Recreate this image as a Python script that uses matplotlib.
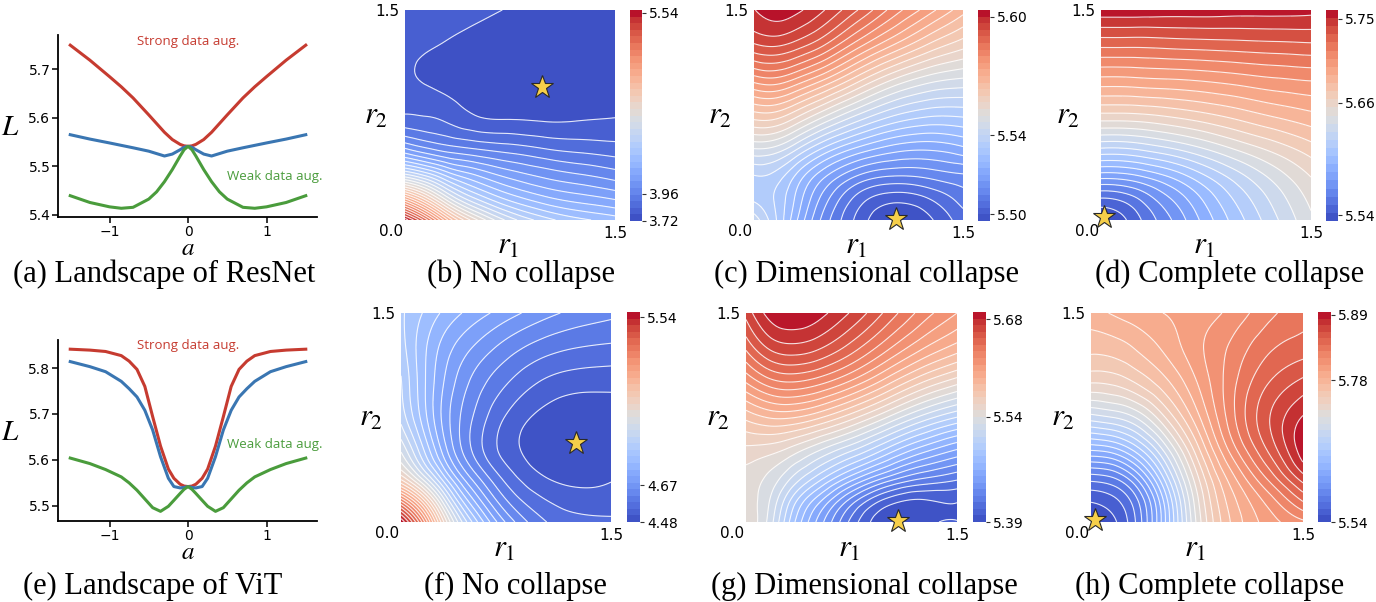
import numpy as np
import matplotlib
matplotlib.use('Agg')
import matplotlib.pyplot as plt
import matplotlib.tri as mtri

plt.rcParams['mathtext.fontset'] = 'stix'
plt.rcParams['font.family'] = ['DejaVu Sans']

# ---------------- data: 1-D landscapes ----------------
x_resnet = [-1.5, -1.25, -1.0, -0.85, -0.7, -0.5, -0.4, -0.3, -0.2, -0.1, -0.05, 0.0,
            0.05, 0.1, 0.2, 0.3, 0.4, 0.5, 0.7, 0.85, 1.0, 1.25, 1.5]
resnet_strong = [5.750, 5.719, 5.685, 5.664, 5.641, 5.606, 5.588, 5.570, 5.555, 5.545, 5.542, 5.541,
                 5.542, 5.545, 5.555, 5.570, 5.588, 5.606, 5.641, 5.664, 5.685, 5.719, 5.750]
resnet_mid = [5.565, 5.556, 5.548, 5.543, 5.538, 5.531, 5.526, 5.521, 5.525, 5.534, 5.539, 5.541,
              5.539, 5.534, 5.525, 5.521, 5.526, 5.531, 5.538, 5.543, 5.548, 5.556, 5.565]
resnet_weak = [5.439, 5.425, 5.416, 5.413, 5.415, 5.432, 5.447, 5.468, 5.493, 5.521, 5.534, 5.541,
               5.534, 5.521, 5.493, 5.468, 5.447, 5.432, 5.415, 5.413, 5.416, 5.425, 5.439]

x_vit = [-1.5, -1.25, -1.05, -0.85, -0.75, -0.65, -0.55, -0.45, -0.35, -0.25, -0.18, -0.1, -0.05, 0.0,
         0.05, 0.1, 0.18, 0.25, 0.35, 0.45, 0.55, 0.65, 0.75, 0.85, 1.05, 1.25, 1.5]
vit_strong = [5.841, 5.839, 5.836, 5.827, 5.815, 5.797, 5.760, 5.694, 5.630, 5.580, 5.560, 5.547, 5.543, 5.542,
              5.543, 5.547, 5.560, 5.580, 5.630, 5.694, 5.760, 5.797, 5.815, 5.827, 5.836, 5.839, 5.841]
vit_mid = [5.814, 5.803, 5.792, 5.771, 5.755, 5.737, 5.708, 5.665, 5.607, 5.560, 5.542, 5.539, 5.540, 5.542,
           5.540, 5.539, 5.542, 5.560, 5.607, 5.665, 5.708, 5.737, 5.755, 5.771, 5.792, 5.803, 5.814]
vit_weak = [5.604, 5.592, 5.579, 5.563, 5.550, 5.534, 5.515, 5.496, 5.488, 5.499, 5.512, 5.527, 5.536, 5.542,
            5.536, 5.527, 5.512, 5.499, 5.488, 5.496, 5.515, 5.534, 5.550, 5.563, 5.579, 5.592, 5.604]

# ---------------- data: 2-D landscapes (rows: r2, cols: r1) ----------------
r_grid = [0.0, 0.15, 0.3, 0.5, 0.75, 1.0, 1.25, 1.5]

L_b = [[5.54, 5.30, 5.00, 4.72, 4.50, 4.38, 4.31, 4.27],
       [5.05, 4.85, 4.62, 4.42, 4.28, 4.20, 4.155, 4.12],
       [4.55, 4.45, 4.32, 4.21, 4.12, 4.065, 4.03, 3.995],
       [4.085, 4.03, 3.99, 3.96, 3.93, 3.90, 3.88, 3.865],
       [3.838, 3.832, 3.815, 3.777, 3.765, 3.76, 3.765, 3.773],
       [3.784, 3.774, 3.762, 3.748, 3.733, 3.722, 3.726, 3.738],
       [3.79, 3.783, 3.774, 3.764, 3.752, 3.742, 3.74, 3.745],
       [3.808, 3.803, 3.797, 3.788, 3.775, 3.766, 3.76, 3.757]]

L_c = [[5.542, 5.534, 5.524, 5.512, 5.502, 5.4965, 5.499, 5.505],
       [5.536, 5.533, 5.526, 5.515, 5.505, 5.501, 5.503, 5.508],
       [5.536, 5.535, 5.529, 5.52, 5.512, 5.509, 5.51, 5.512],
       [5.546, 5.545, 5.54, 5.532, 5.525, 5.521, 5.52, 5.522],
       [5.562, 5.562, 5.558, 5.551, 5.543, 5.537, 5.534, 5.534],
       [5.578, 5.579, 5.576, 5.57, 5.561, 5.553, 5.548, 5.546],
       [5.593, 5.594, 5.592, 5.587, 5.578, 5.57, 5.563, 5.558],
       [5.600, 5.602, 5.601, 5.597, 5.59, 5.582, 5.575, 5.568]]

L_d = [[5.534, 5.540, 5.552, 5.568, 5.590, 5.610, 5.628, 5.645],
       [5.550, 5.553, 5.562, 5.577, 5.597, 5.616, 5.633, 5.649],
       [5.578, 5.579, 5.584, 5.594, 5.610, 5.626, 5.641, 5.655],
       [5.618, 5.618, 5.621, 5.627, 5.637, 5.648, 5.658, 5.668],
       [5.662, 5.662, 5.663, 5.666, 5.671, 5.677, 5.683, 5.688],
       [5.696, 5.696, 5.697, 5.698, 5.700, 5.703, 5.706, 5.708],
       [5.727, 5.727, 5.727, 5.728, 5.729, 5.730, 5.731, 5.732],
       [5.757, 5.757, 5.757, 5.756, 5.756, 5.755, 5.755, 5.754]]

L_f = [[5.56, 5.36, 5.10, 4.86, 4.68, 4.59, 4.56, 4.555],
       [5.36, 5.19, 4.98, 4.77, 4.62, 4.555, 4.532, 4.53],
       [5.13, 5.00, 4.85, 4.69, 4.575, 4.522, 4.505, 4.512],
       [4.99, 4.87, 4.745, 4.62, 4.535, 4.495, 4.48, 4.482],
       [4.91, 4.81, 4.71, 4.62, 4.545, 4.505, 4.488, 4.49],
       [4.89, 4.80, 4.72, 4.645, 4.585, 4.545, 4.528, 4.525],
       [4.87, 4.80, 4.74, 4.685, 4.635, 4.60, 4.582, 4.575],
       [4.86, 4.82, 4.78, 4.74, 4.70, 4.665, 4.64, 4.625]]

L_g = [[5.548, 5.53, 5.495, 5.455, 5.415, 5.392, 5.395, 5.40],
       [5.544, 5.533, 5.505, 5.47, 5.432, 5.405, 5.398, 5.40],
       [5.545, 5.538, 5.522, 5.497, 5.466, 5.44, 5.425, 5.418],
       [5.555, 5.552, 5.545, 5.53, 5.51, 5.487, 5.466, 5.452],
       [5.58, 5.587, 5.588, 5.58, 5.562, 5.54, 5.518, 5.502],
       [5.615, 5.628, 5.633, 5.628, 5.612, 5.59, 5.568, 5.552],
       [5.645, 5.662, 5.668, 5.664, 5.648, 5.627, 5.607, 5.592],
       [5.665, 5.683, 5.69, 5.685, 5.67, 5.65, 5.63, 5.615]]

L_h = [[5.54, 5.548, 5.57, 5.63, 5.72, 5.775, 5.80, 5.815],
       [5.552, 5.558, 5.577, 5.635, 5.725, 5.78, 5.81, 5.84],
       [5.575, 5.58, 5.60, 5.655, 5.735, 5.79, 5.828, 5.865],
       [5.625, 5.63, 5.648, 5.69, 5.755, 5.81, 5.85, 5.89],
       [5.69, 5.695, 5.705, 5.735, 5.78, 5.825, 5.86, 5.885],
       [5.74, 5.742, 5.75, 5.767, 5.795, 5.825, 5.85, 5.865],
       [5.765, 5.767, 5.773, 5.785, 5.803, 5.82, 5.837, 5.845],
       [5.78, 5.785, 5.79, 5.795, 5.80, 5.81, 5.825, 5.835]]

# colour ranges, number of bands, colorbar ticks, minima (stars)
vrange = {'b': (3.72, 5.565), 'c': (5.4965, 5.6035), 'd': (5.5336, 5.7596),
          'f': (4.48, 5.566), 'g': (5.39, 5.69), 'h': (5.54, 5.895)}
n_bands = {'b': 32, 'c': 32, 'd': 26, 'f': 32, 'g': 32, 'h': 32}
cb_ticks = {'b': [3.72, 3.96, 5.54], 'c': [5.50, 5.54, 5.60], 'd': [5.54, 5.66, 5.75],
            'f': [4.48, 4.67, 5.54], 'g': [5.39, 5.54, 5.68], 'h': [5.54, 5.78, 5.89]}
stars = {'b': (0.98, 0.95), 'c': (1.02, 0.01), 'd': (0.02, 0.02),
         'f': (1.25, 0.566), 'g': (1.08, 0.01), 'h': (0.03, 0.015)}
captions = {'a': '(a) Landscape of ResNet', 'b': '(b) No collapse', 'c': '(c) Dimensional collapse',
            'd': '(d) Complete collapse', 'e': '(e) Landscape of ViT', 'f': '(f) No collapse',
            'g': '(g) Dimensional collapse', 'h': '(h) Complete collapse'}

RED, BLUE, GREEN = '#c63b30', '#3a76b2', '#4a9c3c'
STAR = '#f6cf4a'

W, H = 1376, 602
fig = plt.figure(figsize=(W / 100, H / 100), dpi=100)


def px_axes(x0, y0, x1, y1):
    return fig.add_axes([x0 / W, 1 - y1 / H, (x1 - x0) / W, (y1 - y0) / H])


# ---------------- line panels ----------------
def line_panel(box, x, s, m, w, ylim, yticks, strong_y, weak_y, Ly, ay):
    ax = px_axes(*box)
    ax.plot(x, s, color=RED, lw=2.2)
    ax.plot(x, m, color=BLUE, lw=2.2)
    ax.plot(x, w, color=GREEN, lw=2.2)
    ax.set_xlim(-1.656, 1.643)
    ax.set_ylim(*ylim)
    ax.set_xticks([-1, 0, 1])
    ax.set_xticklabels(['\u22121', '0', '1'])
    ax.set_yticks(yticks)
    ax.set_yticklabels(['%.1f' % v for v in yticks])
    for sp in ['top', 'right']:
        ax.spines[sp].set_visible(False)
    for sp in ['left', 'bottom']:
        ax.spines[sp].set_linewidth(1.3)
    ax.tick_params(direction='out', length=4, width=1.1, labelsize=10, pad=1.5)
    ax.text(0, strong_y, 'Strong data aug.', color=RED, fontsize=9.5, ha='center', va='center',
            family='Open Sans')
    ax.text(1.11, weak_y, 'Weak data aug.', color=GREEN, fontsize=9.5, ha='center', va='center',
            family='Open Sans')
    ax.set_xlabel('$a$', fontsize=18, va='center')
    ax.xaxis.set_label_coords(0.502, ay)
    ax.set_ylabel('$L$', fontsize=21, rotation=0, ha='center', va='center')
    ax.yaxis.set_label_coords(-0.185, Ly)
    return ax


line_panel((58, 35, 317, 217), x_resnet, resnet_strong, resnet_mid, resnet_weak,
           (5.395, 5.771), [5.4, 5.5, 5.6, 5.7], 5.757, 5.478, 0.495, -0.17)
line_panel((58, 340, 317, 521), x_vit, vit_strong, vit_mid, vit_weak,
           (5.467, 5.861), [5.5, 5.6, 5.7, 5.8], 5.848, 5.633, 0.49, -0.172)


# ---------------- contour panels ----------------
def contour_panel(key, Z, box, cbox, r2x, r1y):
    ax = px_axes(*box)
    cax = px_axes(*cbox)
    vmin, vmax = vrange[key]
    R1, R2 = np.meshgrid(r_grid, r_grid)
    tri = mtri.Triangulation(R1.ravel(), R2.ravel())
    refiner = mtri.UniformTriRefiner(tri)
    tri_f, z_f = refiner.refine_field(np.asarray(Z, float).ravel(), subdiv=4)
    z_f = np.clip(z_f, vmin, vmax)
    levels = np.linspace(vmin, vmax, n_bands[key] + 1)
    cf = ax.tricontourf(tri_f, z_f, levels=levels, cmap='coolwarm')
    ax.tricontour(tri_f, z_f, levels=levels[1:-1], colors='white', linewidths=0.8, alpha=0.85)
    sx, sy = stars[key]
    ax.plot(sx, sy, marker='*', ms=17, mfc=STAR, mec='#2a2a2a', mew=0.8, clip_on=False, zorder=6)
    ax.set_xlim(0, 1.5)
    ax.set_ylim(0, 1.5)
    for sp in ax.spines.values():
        sp.set_visible(False)
    ax.set_xticks([1.5])
    ax.set_xticklabels(['1.5'])
    ax.set_yticks([1.5])
    ax.set_yticklabels(['1.5'])
    ax.tick_params(length=0, labelsize=11, pad=4)
    ax.text(-0.01, -0.02, '0.0', transform=ax.transAxes, ha='right', va='top', fontsize=11)
    ax.set_xlabel('$r_1$', fontsize=22, va='center')
    ax.xaxis.set_label_coords(0.49, r1y)
    ax.set_ylabel('$r_2$', fontsize=22, rotation=0, ha='center', va='center')
    ax.yaxis.set_label_coords(r2x, 0.5)

    cb = fig.colorbar(cf, cax=cax)
    cb.set_ticks(cb_ticks[key])
    cb.set_ticklabels(['%.2f' % t for t in cb_ticks[key]])
    cb.outline.set_visible(False)
    cax.tick_params(labelsize=10, length=3, width=0.8, pad=2, color='#333333')
    return ax


contour_panel('b', L_b, (405, 10, 615, 220), (630, 10, 642, 221), -0.138, -0.12)
contour_panel('c', L_c, (754, 10, 963, 220), (978, 10, 990, 221), -0.163, -0.12)
contour_panel('d', L_d, (1101, 10, 1311, 220), (1326, 10, 1338, 221), -0.157, -0.12)
contour_panel('f', L_f, (401, 313, 611, 522), (627, 312, 640, 522), -0.143, -0.125)
contour_panel('g', L_g, (746, 313, 957, 522), (973, 312, 986, 522), -0.133, -0.125)
contour_panel('h', L_h, (1091, 313, 1303, 522), (1318, 312, 1331, 522), -0.132, -0.125)

# ---------------- captions ----------------
cap_pos = {'a': (164, 274), 'b': (521, 274), 'c': (867, 274), 'd': (1230, 274),
           'e': (153, 586), 'f': (515, 586), 'g': (864, 586), 'h': (1210, 586)}
for k, (cx, cy) in cap_pos.items():
    fig.text(cx / W, 1 - cy / H, captions[k], ha='center', va='center', fontsize=22,
             family='Liberation Serif')

fig.savefig('out.png', dpi=100)
